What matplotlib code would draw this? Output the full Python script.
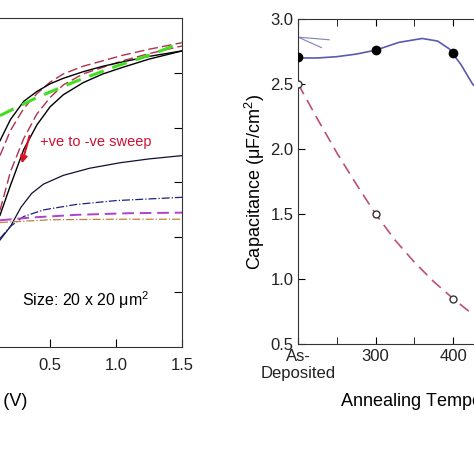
import matplotlib
matplotlib.use("Agg")
import matplotlib.pyplot as plt

plt.rcParams["font.family"] = ["Liberation Sans", "DejaVu Sans"]
plt.rcParams["mathtext.fontset"] = "custom"
plt.rcParams["mathtext.rm"] = "Liberation Sans"
plt.rcParams["mathtext.it"] = "Liberation Sans"

# left panel: C-V sweeps (arbitrary y units, ticks unlabeled)
red_a_x = [0.12, 0.2, 0.3, 0.4, 0.5, 0.6, 0.75, 0.9, 1.05, 1.25, 1.5]
red_a_y = [3.49, 3.95, 4.35, 4.62, 4.83, 4.98, 5.12, 5.22, 5.32, 5.43, 5.55]
red_b_x = [0.12, 0.2, 0.3, 0.4, 0.5, 0.6, 0.75, 0.9, 1.05, 1.25, 1.5]
red_b_y = [2.49, 3.2, 3.8, 4.25, 4.55, 4.78, 4.98, 5.1, 5.22, 5.35, 5.49]
blk_a_x = [0.12, 0.2, 0.3, 0.4, 0.5, 0.6, 0.75, 0.9, 1.05, 1.25, 1.5]
blk_a_y = [3.76, 4.15, 4.48, 4.66, 4.8, 4.9, 5.02, 5.12, 5.2, 5.3, 5.4]
blk_b_x = [0.12, 0.2, 0.3, 0.4, 0.5, 0.6, 0.75, 0.9, 1.05, 1.25, 1.5]
blk_b_y = [2.4, 2.95, 3.6, 4.05, 4.38, 4.6, 4.82, 4.98, 5.1, 5.25, 5.4]
grn_x = [0.12, 0.4, 0.7, 1.0, 1.25, 1.5]
grn_y = [4.22, 4.55, 4.85, 5.12, 5.32, 5.55]
blk_low_x = [0.12, 0.2, 0.28, 0.36, 0.45, 0.6, 0.8, 1.03, 1.25, 1.5]
blk_low_y = [1.95, 2.2, 2.55, 2.8, 2.97, 3.13, 3.26, 3.36, 3.43, 3.49]
navy_x = [0.12, 0.2, 0.3, 0.45, 0.7, 1.0, 1.5]
navy_y = [1.98, 2.2, 2.38, 2.5, 2.6, 2.67, 2.73]
purp_x = [0.12, 0.35, 0.7, 1.1, 1.5]
purp_y = [2.31, 2.36, 2.41, 2.44, 2.45]
orng_x = [0.12, 0.5, 1.0, 1.5]
orng_y = [2.27, 2.32, 2.33, 2.33]

# right panel: capacitance vs annealing
temps = [200, 300, 400, 500]
cap_filled = [2.71, 2.76, 2.74, 2.2]
cap_open = [2.5, 1.5, 0.85, 0.6]
fit_fill_x = [200, 225, 250, 275, 300, 330, 360, 380, 395, 410, 425, 450, 500]
fit_fill_y = [2.70, 2.70, 2.71, 2.73, 2.76, 2.82, 2.85, 2.83, 2.77, 2.65, 2.50, 2.35, 2.2]
fit_open_x = [200, 225, 250, 275, 300, 325, 350, 375, 400, 425, 450, 500]
fit_open_y = [2.5, 2.23, 1.97, 1.73, 1.5, 1.3, 1.13, 0.98, 0.85, 0.73, 0.66, 0.6]
xtick_vals = [200, 300, 400, 500]
xtick_labels = ["As-\nDeposited", "300", "400", "500"]

fig = plt.figure(figsize=(4.74, 4.74), dpi=100, facecolor="white")

ax = fig.add_axes([-0.451, 0.268, 0.835, 0.694])
ax.plot(red_a_x, red_a_y, color="#b03050", lw=1, ls=(0, (7, 3)))
ax.plot(red_b_x, red_b_y, color="#b03050", lw=1, ls=(0, (7, 3)))
ax.plot(blk_a_x, blk_a_y, color="black", lw=1)
ax.plot(blk_b_x, blk_b_y, color="black", lw=1)
ax.plot(grn_x, grn_y, color="#44dd22", lw=2.2, ls=(0, (5, 3)))
ax.plot(blk_low_x, blk_low_y, color="#101030", lw=0.9)
ax.plot(navy_x, navy_y, color="#202080", lw=0.9, ls="-.")
ax.plot(purp_x, purp_y, color="#b040d0", lw=1.4, ls=(0, (6, 3)))
ax.plot(orng_x, orng_y, color="#c08040", lw=0.9, ls="-.")
ax.set_xlim(-1.5, 1.5)
ax.set_ylim(0, 6)
ax.set_xticks([-1.0, -0.5, 0.0, 0.5, 1.0, 1.5])
ax.set_xticklabels(["-1.0", "-0.5", "0.0", "0.5", "1.0", "1.5"], fontsize=12, color="#222222")
ax.set_yticks([1, 2, 3, 4, 5])
ax.tick_params(axis="y", labelleft=False, direction="in", right=True, length=6)
ax.tick_params(axis="x", direction="in", length=6, pad=8)
ax.annotate("", xy=(0.28, 3.3), xytext=(0.35, 3.9),
            arrowprops=dict(arrowstyle="-|>", color="#dd1122", lw=1.5))
ax.text(0.42, 3.67, "+ve to -ve sweep", color="#cc1133", fontsize=10.5)
ax.text(0.29, 0.75, "Size: 20 x 20 $\\mu$m$^2$", fontsize=11.5)
fig.text(27 / 474, 1 - 402 / 474, "Voltage (V)", ha="right", va="center", fontsize=13)
for s in ax.spines.values():
    s.set_color("#333333")

ax2 = fig.add_axes([0.629, 0.274, 0.654, 0.686])
ax2.plot(fit_fill_x, fit_fill_y, color="#5a5ab0", lw=1.2)
ax2.plot([200, 230], [2.86, 2.78], color="#8080c0", lw=0.8)
ax2.plot([200, 240], [2.86, 2.84], color="#8080c0", lw=0.8)
ax2.plot(fit_open_x, fit_open_y, color="#c05070", lw=1.2, ls=(0, (7, 4)))
ax2.plot(temps, cap_filled, "o", color="black", ms=6, zorder=3)
ax2.plot(temps, cap_open, "o", mfc="white", mec="#333333", ms=5, zorder=3)
ax2.set_xlim(200, 600)
ax2.set_ylim(0.5, 3.0)
ax2.set_xticks(xtick_vals)
ax2.set_xticklabels(xtick_labels, fontsize=12, color="#222222")
ax2.set_xticks([250, 350, 450, 550], minor=True)
ax2.set_yticks([0.5, 1.0, 1.5, 2.0, 2.5, 3.0])
ax2.set_yticklabels(["0.5", "1.0", "1.5", "2.0", "2.5", "3.0"], fontsize=12, color="#222222")
ax2.tick_params(which="both", direction="in", top=True, length=5)
ax2.set_ylabel("Capacitance ($\\mu$F/cm$^2$)", fontsize=13, labelpad=2)
ax2.set_xlabel("Annealing Temperature ($^o$C)", fontsize=13, labelpad=6)
for s in ax2.spines.values():
    s.set_color("#333333")

fig.savefig("out.png", dpi=100)
